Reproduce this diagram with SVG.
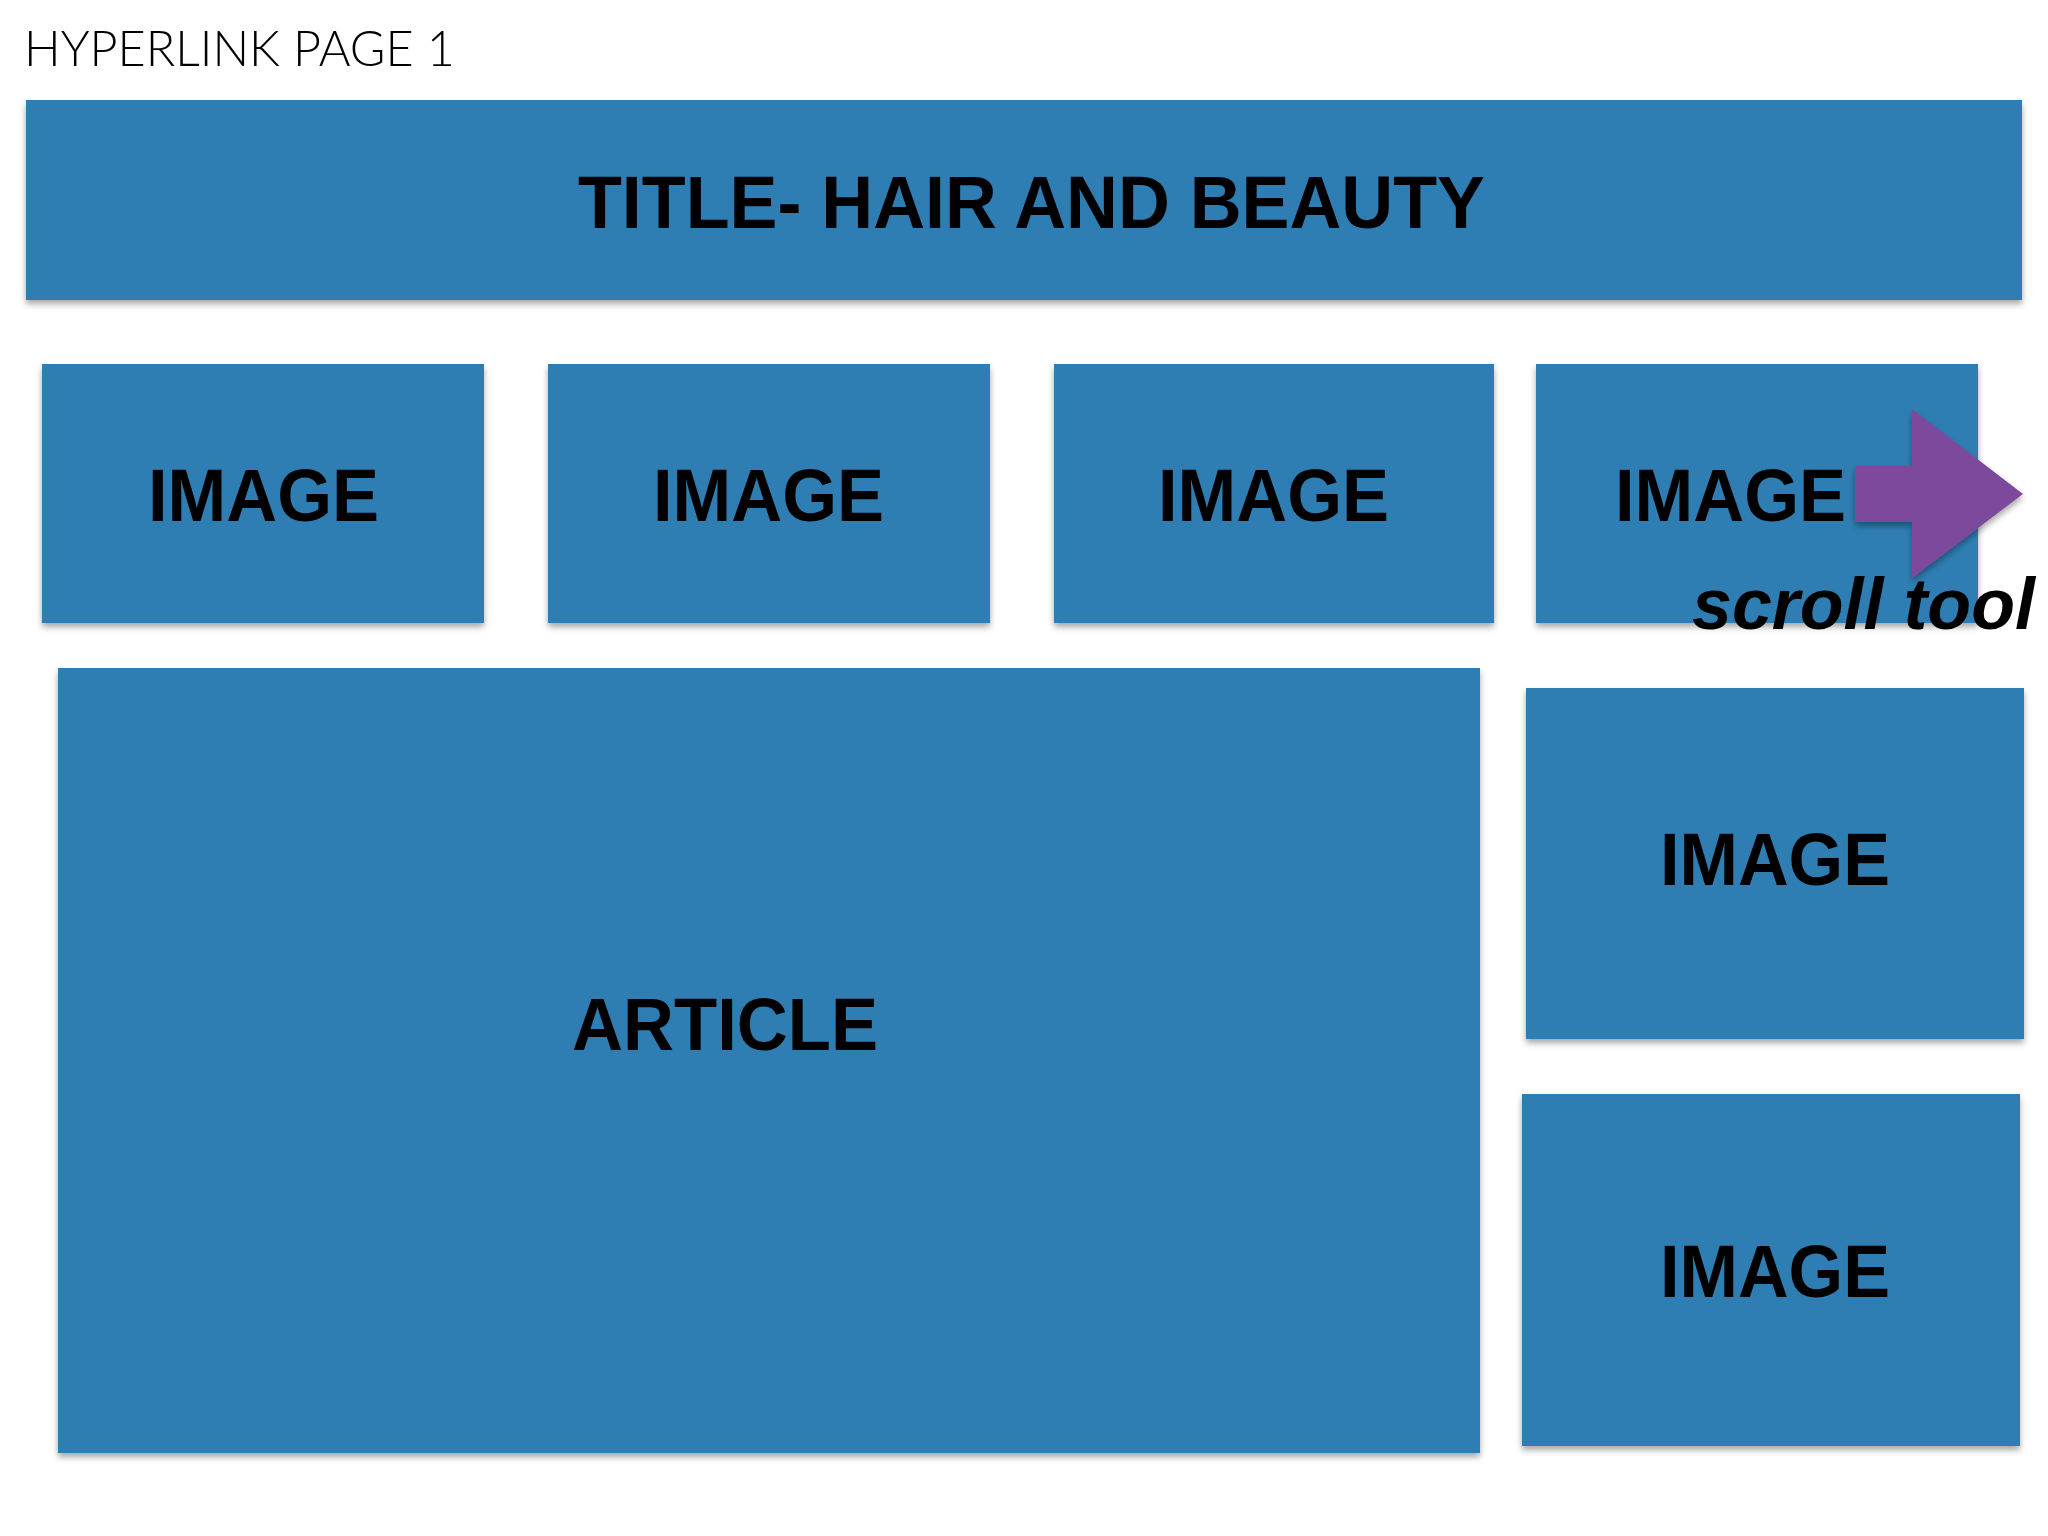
<svg xmlns="http://www.w3.org/2000/svg" width="2048" height="1536" viewBox="0 0 2048 1536">
  <defs>
    <filter id="shadow" x="-5%" y="-5%" width="110%" height="115%">
      <feDropShadow dx="0" dy="4" stdDeviation="3" flood-color="#000" flood-opacity="0.35"/>
    </filter>
  </defs>
  <style>
    .card { fill: #2f7eb3; filter: url(#shadow); }
    .lbl { font-family: "Liberation Sans", Arial, Helvetica, sans-serif; font-weight: bold; fill: #000; font-size: 74px; }
    .hdr { font-family: Lato, "Liberation Sans", Arial, sans-serif; font-weight: 300; fill: #000; font-size: 50px; }
    .arrow { fill: #7b4a9c; filter: url(#shadow); }
    .note { font-family: "Liberation Sans", Arial, Helvetica, sans-serif; font-weight: bold; font-style: italic; fill: #000; font-size: 72px; }
  </style>
  <rect x="0" y="0" width="2048" height="1536" fill="#ffffff"/>

  <text class="hdr" x="24" y="66" textLength="431" lengthAdjust="spacingAndGlyphs">HYPERLINK PAGE 1</text>

  <g id="title">
    <rect class="card" x="26" y="100" width="1996" height="200"/>
    <text class="lbl" x="578" y="228" font-size="75" textLength="907" lengthAdjust="spacingAndGlyphs">TITLE- HAIR AND BEAUTY</text>
  </g>

  <g id="image1">
    <rect class="card" x="42" y="364" width="442" height="259"/>
    <text class="lbl" x="148" y="521" textLength="231" lengthAdjust="spacingAndGlyphs">IMAGE</text>
  </g>
  <g id="image2">
    <rect class="card" x="548" y="364" width="442" height="259"/>
    <text class="lbl" x="653" y="521" textLength="231" lengthAdjust="spacingAndGlyphs">IMAGE</text>
  </g>
  <g id="image3">
    <rect class="card" x="1054" y="364" width="440" height="259"/>
    <text class="lbl" x="1158" y="521" textLength="231" lengthAdjust="spacingAndGlyphs">IMAGE</text>
  </g>
  <g id="image4">
    <rect class="card" x="1536" y="364" width="442" height="259"/>
    <text class="lbl" x="1615" y="521" textLength="231" lengthAdjust="spacingAndGlyphs">IMAGE</text>
  </g>

  <g id="article">
    <rect class="card" x="58" y="668" width="1422" height="785"/>
    <text class="lbl" x="572" y="1050" textLength="306" lengthAdjust="spacingAndGlyphs">ARTICLE</text>
  </g>

  <g id="image5">
    <rect class="card" x="1526" y="688" width="498" height="351"/>
    <text class="lbl" x="1660" y="885" textLength="230" lengthAdjust="spacingAndGlyphs">IMAGE</text>
  </g>
  <g id="image6">
    <rect class="card" x="1522" y="1094" width="498" height="352"/>
    <text class="lbl" x="1660" y="1297" textLength="230" lengthAdjust="spacingAndGlyphs">IMAGE</text>
  </g>

  <g id="scroll-tool">
    <polygon class="arrow" points="1855,466 1912,466 1912,409 2023,494 1912,578 1912,522 1855,522"/>
    <text class="note" x="1692" y="629" textLength="343" lengthAdjust="spacingAndGlyphs">scroll tool</text>
  </g>

  <g id="connectors"></g>
</svg>
